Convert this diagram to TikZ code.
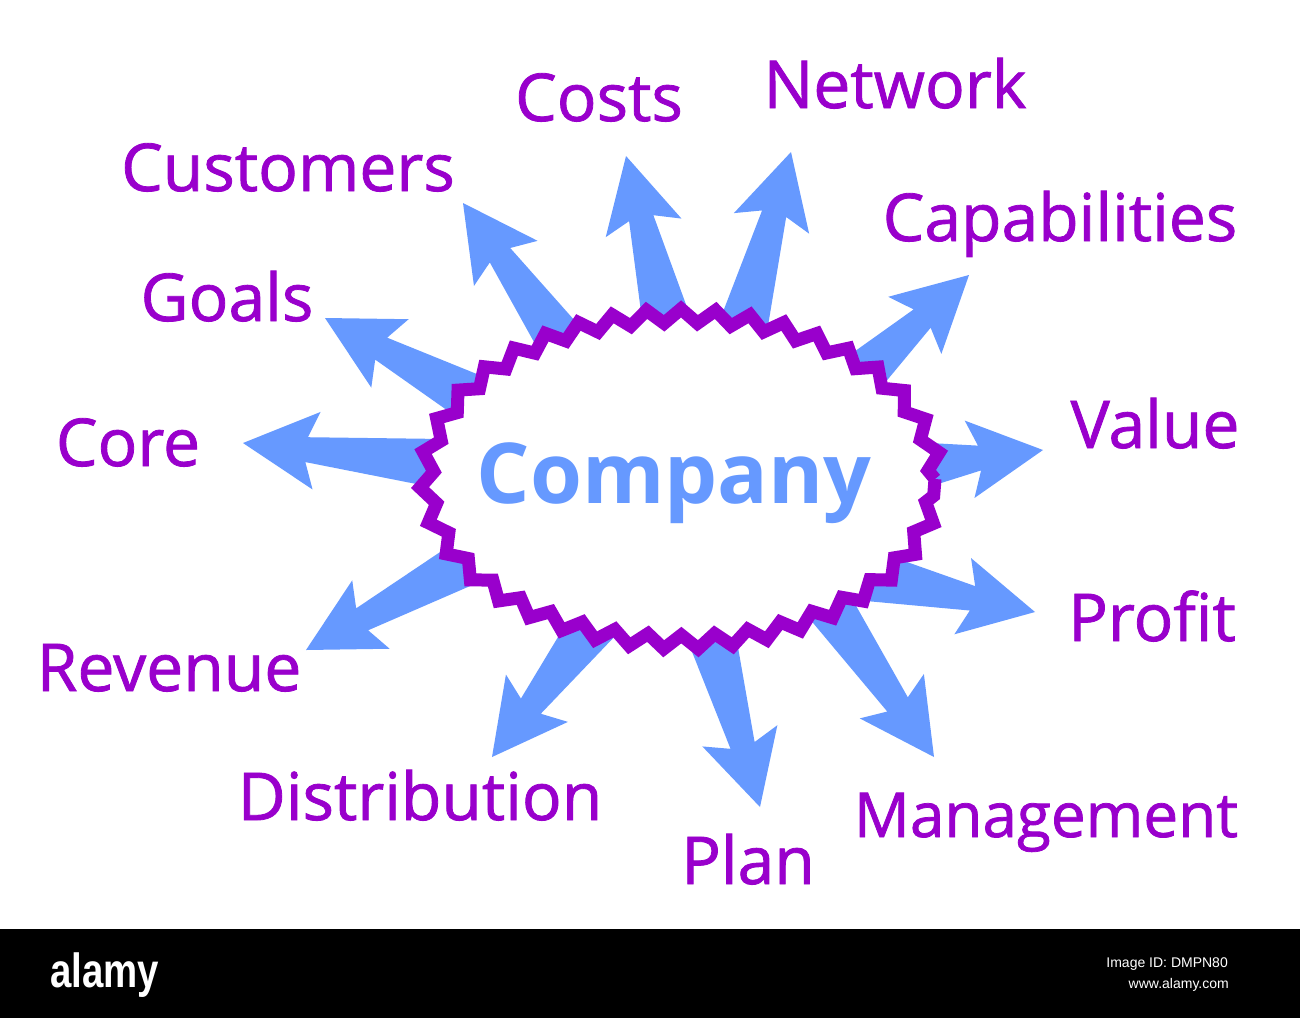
\documentclass[tikz,border=0pt]{standalone}
\usepackage{fontspec}
\setmainfont{Open Sans}
\newfontfamily\lblfont[FakeBold=1.2]{Open Sans}
\newfontfamily\logofont{Liberation Sans}
\usetikzlibrary{calc,decorations.pathmorphing}
\definecolor{arrowblue}{RGB}{102,153,255}
\definecolor{labelpurple}{RGB}{153,0,204}
\newcommand\fatarrow[2]{%
  \fill[fat] (#1) -- ($(#1)!74pt!(#2)!39pt!90:(#2)$) -- ($(#1)!64pt!(#2)!12.5pt!90:(#2)$)
    -- ($(#2)!27pt!-90:(#1)$) -- ($(#2)!27pt!90:(#1)$)
    -- ($(#1)!64pt!(#2)!12.5pt!-90:(#2)$) -- ($(#1)!74pt!(#2)!39pt!-90:(#2)$) -- cycle;}
\begin{document}
\begin{tikzpicture}[x=1pt,y=-1pt,
  lbl/.style={text=labelpurple, font=\lblfont\fontsize{66}{70}\selectfont, anchor=base, inner sep=0pt},
  fat/.style={fill=arrowblue},
  zig/.style={draw=labelpurple, line width=13pt, line join=miter, fill=white, decorate,
    decoration={zigzag, segment length=34pt, amplitude=7pt}},
  foot/.style={text=white, font=\logofont\fontsize{14}{16}\selectfont, anchor=base east, inner sep=0pt}]
\useasboundingbox (0,0) rectangle (1300,1018);
\fill[white] (0,0) rectangle (1300,1018);
\fill[black] (0,929) rectangle (1300,1018);

% arrow tips (t) and shaft entry points (s)
\coordinate (tCu) at (463,203);  \coordinate (sCu) at (553,330);
\coordinate (tGo) at (325,318);  \coordinate (sGo) at (457,390);
\coordinate (tCr) at (243,443);  \coordinate (sCr) at (425,462);
\coordinate (tRe) at (306,650);  \coordinate (sRe) at (467,562);
\coordinate (tDi) at (492,757);  \coordinate (sDi) at (586,634);
\coordinate (tPl) at (760,807);  \coordinate (sPl) at (715,648);
\coordinate (tMa) at (934,757);  \coordinate (sMa) at (830,607);
\coordinate (tPr) at (1035,612); \coordinate (sPr) at (898,582);
\coordinate (tVa) at (1043,450); \coordinate (sVa) at (940,463);
\coordinate (tCa) at (969,275);  \coordinate (sCa) at (870,367);
\coordinate (tNe) at (791,152);  \coordinate (sNe) at (747,313);
\coordinate (tCo) at (626,156);  \coordinate (sCo) at (663,307);
\foreach \n in {Cu,Go,Cr,Re,Di,Pl,Ma,Pr,Va,Ca,Ne,Co}{
  \coordinate (b\n) at ($(s\n)!-40pt!(t\n)$);
  \fatarrow{t\n}{b\n}
}

% central zigzag ellipse
\draw[zig] (681,479) ellipse [x radius=254pt, y radius=163pt];
\node[text=arrowblue, font=\bfseries\fontsize{84}{90}\selectfont, anchor=base, inner sep=0pt] (company) at (674,503) {Company};

% labels
\node[lbl] (costs) at (599,121) {Costs};
\node[lbl] (network) at (895,108) {Network};
\node[lbl] (customers) at (288,191) {Customers};
\node[lbl] (goals) at (227,321) {Goals};
\node[lbl] (capabilities) at (1060,241) {Capabilities};
\node[lbl] (core) at (128,466) {Core};
\node[lbl] (value) at (1155,448) {Value};
\node[lbl] (profit) at (1152,641) {Profit};
\node[lbl] (revenue) at (169,691) {Revenue};
\node[lbl] (distribution) at (420,820) {Distribution};
\node[lbl, font=\lblfont\fontsize{62}{66}\selectfont] (management) at (1046,837) {Management};
\node[lbl] (plan) at (748,884) {Plan};

% footer
\node[text=white, font=\logofont\bfseries\fontsize{48}{50}\selectfont, anchor=base west, inner sep=0pt] (alamy) at (50,987) {\scalebox{0.8}[1]{alamy}};
\node[foot] (imgid) at (1228,967) {Image ID: DMPN80};
\node[foot] (www) at (1229,988) {www.alamy.com};
\end{tikzpicture}
\end{document}
